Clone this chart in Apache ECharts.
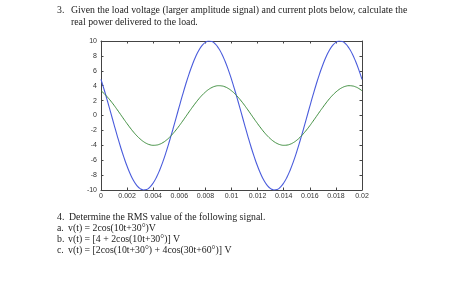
<!DOCTYPE html>
<html><head><meta charset="utf-8">
<script src="https://cdn.jsdelivr.net/npm/echarts@6/dist/echarts.min.js"></script>
<style>html,body{margin:0;padding:0;background:#fff;}#c{width:474px;height:286px;}</style>
</head><body><div id="c"></div>
<script>
const times = [0,0.00025,0.0005,0.00075,0.001,0.00125,0.0015,0.00175,0.002,0.00225,0.0025,0.00275,0.003,0.00325,0.0035,0.00375,0.004,0.00425,0.0045,0.00475,0.005,0.00525,0.0055,0.00575,0.006,0.00625,0.0065,0.00675,0.007,0.00725,0.0075,0.00775,0.008,0.00825,0.0085,0.00875,0.009,0.00925,0.0095,0.00975,0.01,0.01025,0.0105,0.01075,0.011,0.01125,0.0115,0.01175,0.012,0.01225,0.0125,0.01275,0.013,0.01325,0.0135,0.01375,0.014,0.01425,0.0145,0.01475,0.015,0.01525,0.0155,0.01575,0.016,0.01625,0.0165,0.01675,0.017,0.01725,0.0175,0.01775,0.018,0.01825,0.0185,0.01875,0.019,0.01925,0.0195,0.01975,0.02];
const voltage = [4.85,3.42,1.91,0.35,-1.22,-2.76,-4.23,-5.59,-6.82,-7.88,-8.75,-9.40,-9.82,-9.99,-9.93,-9.61,-9.06,-8.29,-7.31,-6.16,-4.85,-3.42,-1.91,-0.35,1.22,2.76,4.23,5.59,6.82,7.88,8.75,9.40,9.82,9.99,9.93,9.61,9.06,8.29,7.31,6.16,4.85,3.42,1.91,0.35,-1.22,-2.76,-4.23,-5.59,-6.82,-7.88,-8.75,-9.40,-9.82,-9.99,-9.93,-9.61,-9.06,-8.29,-7.31,-6.16,-4.85,-3.42,-1.91,-0.35,1.22,2.76,4.23,5.59,6.82,7.88,8.75,9.40,9.82,9.99,9.93,9.61,9.06,8.29,7.31,6.16,4.85];
const current = [3.32,2.93,2.46,1.94,1.37,0.76,0.14,-0.49,-1.10,-1.69,-2.24,-2.73,-3.15,-3.50,-3.76,-3.93,-4.00,-3.97,-3.85,-3.63,-3.32,-2.93,-2.46,-1.94,-1.37,-0.76,-0.14,0.49,1.10,1.69,2.24,2.73,3.15,3.50,3.76,3.93,4.00,3.97,3.85,3.63,3.32,2.93,2.46,1.94,1.37,0.76,0.14,-0.49,-1.10,-1.69,-2.24,-2.73,-3.15,-3.50,-3.76,-3.93,-4.00,-3.97,-3.85,-3.63,-3.32,-2.93,-2.46,-1.94,-1.37,-0.76,-0.14,0.49,1.10,1.69,2.24,2.73,3.15,3.50,3.76,3.93,4.00,3.97,3.85,3.63,3.32];
const xTickLabels = ['0','0.002','0.004','0.006','0.008','0.01','0.012','0.014','0.016','0.018','0.02'];
const yTickLabels = ['-10','-8','-6','-4','-2','0','2','4','6','8','10'];
const headerLines = ['Given the load voltage (larger amplitude signal) and current plots below, calculate the','real power delivered to the load.'];
const footerLines = [['4.','Determine the RMS value of the following signal.'],['a.','v(t) = 2cos(10t+30\u00B0)V'],['b.','v(t) = [4 + 2cos(10t+30\u00B0)] V'],['c.','v(t) = [2cos(10t+30\u00B0) + 4cos(30t+60\u00B0)] V']];

const serif = '"Liberation Serif", "DejaVu Serif", serif';
const textColor = '#222';
const fs = '9.8px ';
const graphics = [];
graphics.push({type:'text', style:{x:57, y:10.5, text:'3.', font:fs+serif, fill:textColor, verticalAlign:'middle'}});
headerLines.forEach((t,i)=>graphics.push({type:'text', style:{x:71, y:10.5+i*11.5, text:t, font:fs+serif, fill:textColor, verticalAlign:'middle'}}));
footerLines.forEach((p,i)=>{
  graphics.push({type:'text', style:{x:57, y:217.3+i*11.2, text:p[0], font:fs+serif, fill:textColor, verticalAlign:'middle'}});
  graphics.push({type:'text', style:{x:i===0?69:68, y:217.3+i*11.2, text:p[1], font:fs+serif, fill:textColor, verticalAlign:'middle'}});
});

const axisLine = {show:true, onZero:false, lineStyle:{color:'#444', width:1}};
const tickStyle = {show:true, inside:true, length:2.5, lineStyle:{color:'#444', width:1}};
const labelFont = {fontFamily:'"Liberation Sans", Arial, sans-serif', fontSize:7, color:'#333'};

const chart = echarts.init(document.getElementById('c'), null, {renderer:'canvas'});
chart.setOption({
  animation:false,
  backgroundColor:'#fff',
  graphic: graphics,
  grid:{left:101, top:41, width:261, height:149, containLabel:false},
  xAxis:[
    {type:'value', position:'bottom', min:0, max:0.02, interval:0.002, axisLine, axisTick:tickStyle, splitLine:{show:false},
     axisLabel:Object.assign({margin:3, formatter:(v)=>xTickLabels[Math.round(v/0.002)]}, labelFont)},
    {type:'value', position:'top', min:0, max:0.02, interval:0.002, axisLine, axisTick:tickStyle, splitLine:{show:false}, axisLabel:{show:false}}
  ],
  yAxis:[
    {type:'value', position:'left', min:-10, max:10, interval:2, axisLine, axisTick:tickStyle, splitLine:{show:false},
     axisLabel:Object.assign({margin:4, formatter:(v)=>yTickLabels[Math.round((v+10)/2)]}, labelFont)},
    {type:'value', position:'right', min:-10, max:10, interval:2, axisLine, axisTick:tickStyle, splitLine:{show:false}, axisLabel:{show:false}}
  ],
  series:[
    {type:'line', data:times.map((t,i)=>[t,voltage[i]]), showSymbol:false, smooth:true, lineStyle:{color:'#4a5cdc', width:1.1}, clip:true},
    {type:'line', data:times.map((t,i)=>[t,current[i]]), showSymbol:false, smooth:true, lineStyle:{color:'#3e8e3e', width:1}, clip:true}
  ]
});
</script></body></html>
